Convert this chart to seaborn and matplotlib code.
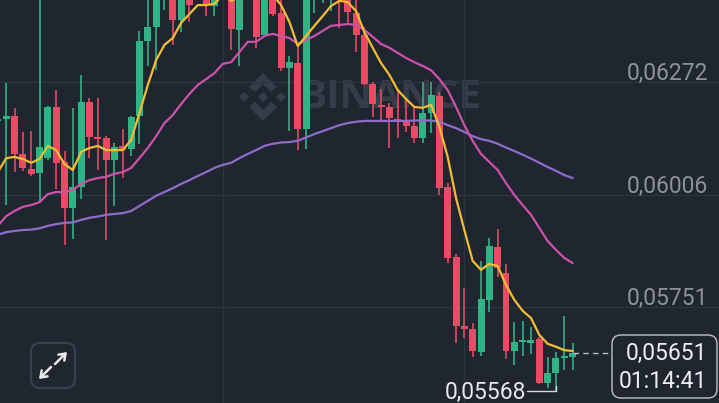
import pandas as pd
import seaborn as sns
import matplotlib.pyplot as plt
from matplotlib.patches import FancyBboxPatch, Polygon

# prices are in units of 0.00001, one entry per candle
open_p = [6181, 6186, 6193, 6103, 6067, 6058, 6093, 6214, 6084, 5975, 6025, 6226, 6143, 6141, 6089, 6122,
          6115, 6193, 6370, 6403, 6490, 6520, 6420, 6520, 6490, 6520, 6453, 6475, 6520, 6396, 6490, 6520,
          6384, 6520, 6436, 6306, 6318, 6162, 6490, 6490, 6490, 6520, 6520, 6436, 6384, 6268, 6219, 6213,
          6186, 6179, 6169, 6141, 6200, 6240, 6025, 5859, 5696, 5689, 5635, 5758, 5883, 5822, 5637, 5658,
          5656, 5665, 5561, 5585, 5621, 5623]
close_p = [6186, 6193, 6103, 6070, 6056, 6119, 6214, 6082, 5975, 6025, 6226, 6143, 6138, 6089, 6119, 6112,
           6190, 6370, 6403, 6480, 6520, 6420, 6520, 6455, 6520, 6455, 6520, 6520, 6398, 6520, 6520, 6380,
           6520, 6434, 6306, 6320, 6162, 6500, 6520, 6520, 6520, 6490, 6439, 6384, 6268, 6221, 6214, 6188,
           6183, 6169, 6141, 6200, 6242, 6022, 5857, 5696, 5689, 5637, 5760, 5885, 5833, 5637, 5658, 5663,
           5663, 5561, 5585, 5621, 5625, 5632]
high_p = [6250, 6271, 6212, 6155, 6157, 6480, 6216, 6254, 6110, 6212, 6290, 6235, 6235, 6145, 6129, 6162,
          6193, 6394, 6480, 6490, 6540, 6540, 6540, 6540, 6540, 6540, 6540, 6540, 6540, 6540, 6540, 6540,
          6540, 6540, 6480, 6335, 6358, 6520, 6540, 6540, 6540, 6540, 6540, 6480, 6403, 6273, 6257, 6223,
          6254, 6231, 6214, 6273, 6273, 6249, 6034, 5866, 5786, 5703, 5850, 5904, 5926, 5843, 5706, 5708,
          5694, 5670, 5623, 5635, 5720, 5656]
low_p = [6070, 5982, 6060, 6063, 6051, 5987, 6089, 6020, 5888, 5902, 5996, 6093, 6065, 5900, 5980, 6046,
         6098, 6127, 6311, 6301, 6443, 6361, 6391, 6415, 6480, 6429, 6429, 6470, 6349, 6311, 6480, 6354,
         6384, 6430, 6299, 6157, 6112, 6115, 6436, 6460, 6441, 6401, 6408, 6344, 6266, 6190, 6179, 6117,
         6141, 6155, 6129, 6129, 6153, 6006, 5845, 5656, 5668, 5623, 5625, 5729, 5812, 5618, 5604, 5625,
         5630, 5559, 5550, 5540, 5592, 5592]

ma7 = [6060, 6093, 6096, 6091, 6082, 6091, 6122, 6112, 6079, 6065, 6108, 6117, 6122, 6112, 6112, 6112,
       6136, 6200, 6266, 6325, 6361, 6377, 6413, 6434, 6455, 6455, 6458, 6479, 6465, 6474, 6486, 6491,
       6491, 6479, 6455, 6415, 6358, 6382, 6406, 6429, 6453, 6465, 6462, 6441, 6391, 6354, 6318, 6290,
       6254, 6233, 6214, 6212, 6219, 6167, 6096, 5999, 5923, 5850, 5829, 5843, 5838, 5793, 5758, 5732,
       5715, 5675, 5654, 5647, 5639, 5637]
ma25 = [5933, 5956, 5968, 5978, 5982, 5989, 6008, 6013, 6012, 6018, 6032, 6041, 6046, 6049, 6056, 6060,
        6070, 6093, 6117, 6145, 6176, 6195, 6221, 6245, 6266, 6280, 6294, 6316, 6320, 6344, 6368, 6368,
        6382, 6387, 6382, 6377, 6363, 6372, 6382, 6394, 6406, 6408, 6410, 6408, 6396, 6380, 6363, 6354,
        6342, 6330, 6320, 6311, 6301, 6280, 6254, 6214, 6171, 6134, 6103, 6084, 6065, 6034, 6006, 5982,
        5959, 5928, 5897, 5876, 5857, 5845]
ma99 = [5912, 5918, 5921, 5923, 5924, 5927, 5933, 5937, 5940, 5941, 5947, 5952, 5955, 5959, 5961, 5963,
        5968, 5980, 5992, 6004, 6013, 6022, 6032, 6041, 6051, 6060, 6070, 6077, 6082, 6093, 6103, 6112,
        6122, 6127, 6130, 6131, 6134, 6142, 6150, 6157, 6164, 6171, 6176, 6179, 6181, 6181, 6181, 6181,
        6181, 6181, 6182, 6182, 6182, 6179, 6171, 6164, 6155, 6145, 6138, 6134, 6127, 6118, 6110, 6101,
        6092, 6082, 6072, 6063, 6053, 6046]

grid_prices = [6272, 6006, 5740]
grid_labels = ['0,06272', '0,06006', '0,05751']
grid_times = [27, 56]
low_label = '0,05568'
last_price = 5632
last_label = '0,05651'
countdown = '01:14:41'

BG = '#1f2630'
GREEN = '#2fb585'
RED = '#ea4a63'

sns.set_theme(style='dark')
plt.rcParams['font.family'] = ['Roboto', 'DejaVu Sans']

df = pd.DataFrame({'idx': range(-1, len(open_p) - 1), 'open': open_p, 'close': close_p,
                   'high': high_p, 'low': low_p, 'ma7': ma7, 'ma25': ma25, 'ma99': ma99})
df['color'] = [GREEN if c >= o else RED for o, c in zip(df['open'], df['close'])]

fig = plt.figure(figsize=(7.19, 4.03), dpi=100, facecolor=BG)

# watermark sits behind the candles, drawn in pixel coordinates
back = fig.add_axes([0, 0, 1, 1], zorder=0)
back.set_xlim(0, 719)
back.set_ylim(403, 0)
back.axis('off')
MARK = '#363d48'
for cx in [244, 263, 281]:
    back.add_patch(Polygon([(cx - 5, 97), (cx, 92), (cx + 5, 97), (cx, 102)], color=MARK, lw=0))
back.add_patch(Polygon([(263, 73), (277, 87), (271, 92), (263, 84), (255, 92), (249, 87)], color=MARK, lw=0))
back.add_patch(Polygon([(263, 121), (277, 107), (271, 102), (263, 110), (255, 102), (249, 107)], color=MARK, lw=0))
back.text(299, 97, 'BINANCE', color=MARK, fontsize=29, fontweight='bold', va='center', ha='left',
          family=['Open Sans', 'DejaVu Sans'])

ax = fig.add_axes([0, 0, 1, 1], zorder=1)
ax.patch.set_alpha(0)
ax.set_xlim(-0.744, 85.57)
ax.set_ylim(5514, 6467)
ax.axis('off')

for p in grid_prices:
    ax.axhline(p, color='#2d343e', lw=1, zorder=1)
for t in grid_times:
    ax.axvline(t - 1, color='#2d343e', lw=1, zorder=1)

ax.vlines(df['idx'], df['low'], df['high'], colors=df['color'], lw=1.3, alpha=0.9, zorder=2)
ax.bar(df['idx'], (df['close'] - df['open']).abs(), bottom=df[['open', 'close']].min(axis=1),
       width=0.84, color=df['color'], lw=0, zorder=3)

sns.lineplot(data=df, x='idx', y='ma99', color='#8f6cc9', lw=1.6, ax=ax, zorder=4)
sns.lineplot(data=df, x='idx', y='ma25', color='#cb52a8', lw=1.6, ax=ax, zorder=5)
sns.lineplot(data=df, x='idx', y='ma7', color='#f2bd35', lw=1.6, ax=ax, zorder=6)

for p, lab in zip(grid_prices, grid_labels):
    ax.annotate(lab, (1, p), xycoords=('axes fraction', 'data'), xytext=(-8, -2), textcoords='offset points',
                ha='right', va='bottom', fontsize=16.5, color='#8d9299', zorder=7)

ax.plot([df['idx'].iloc[-1], 73.2], [last_price, last_price], color='#b8bcc2', lw=1, ls=(0, (4, 3)), zorder=7)

# interface bits on top, in pixel coordinates
ui = fig.add_axes([0, 0, 1, 1], zorder=2)
ui.patch.set_alpha(0)
ui.set_xlim(0, 719)
ui.set_ylim(403, 0)
ui.axis('off')

ui.add_patch(FancyBboxPatch((620, 343), 89, 47, boxstyle='round,pad=8,rounding_size=9', fc=BG, ec='#bfc3c8', lw=1))
ui.text(707, 353, last_label, ha='right', va='center', fontsize=16.5, color='#eceef0')
ui.text(707, 381, countdown, ha='right', va='center', fontsize=16.5, color='#eceef0')

ui.text(526, 392, low_label, ha='right', va='center', fontsize=16.5, color='#e6e8ea')
ui.plot([527, 556, 556], [391, 391, 386], color='#d5d7da', lw=1)

ui.add_patch(FancyBboxPatch((38, 350), 30, 31, boxstyle='round,pad=7,rounding_size=9', fc='none', ec='#3a414c', lw=1.6))
for tail, tip in [((55, 364), (67, 352)), ((51, 367), (39, 379))]:
    ui.annotate('', xy=tip, xytext=tail, arrowprops=dict(arrowstyle='->,head_length=0.35,head_width=0.25',
                                                         color='#e8eaec', lw=1.8, shrinkA=0, shrinkB=0))

plt.savefig('out.png', dpi=100, facecolor=BG)
plt.close()
